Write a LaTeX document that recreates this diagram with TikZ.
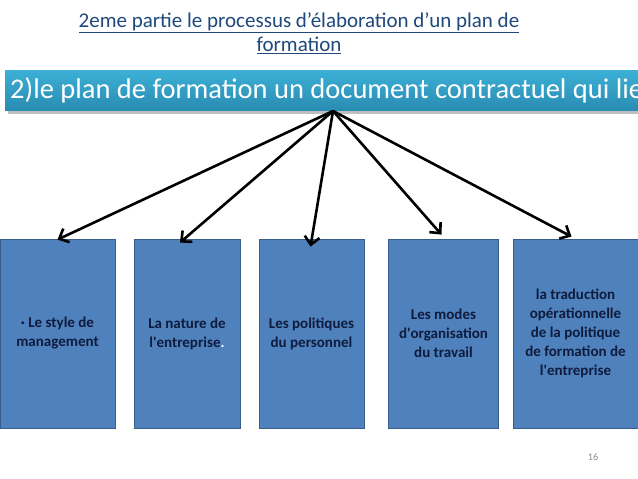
\documentclass[tikz,border=0pt]{standalone}
\usepackage{fontspec}
\setmainfont{Carlito}
\usetikzlibrary{arrows.meta,shadows}
\definecolor{titreblue}{HTML}{1F497D}
\definecolor{bandtop}{HTML}{3CB0D6}
\definecolor{bandbot}{HTML}{2A8CB2}
\definecolor{boxfill}{HTML}{4F81BD}
\definecolor{boxline}{HTML}{385D8A}
\definecolor{boxtext}{HTML}{0F1B3D}
\tikzset{
  facteur/.style={draw=boxline, line width=0.8pt, fill=boxfill, minimum height=189pt,
    align=center, text=boxtext, font=\bfseries\fontsize{15}{19}\selectfont, inner sep=0pt},
  fleche/.style={line width=2.6pt, -{Straight Barb[length=8pt,width=15pt,line width=2.6pt]}}
}
\begin{document}
\begin{tikzpicture}[x=1pt,y=-1pt]
  \useasboundingbox (0,0) rectangle (638,479);
  \fill[white] (0,0) rectangle (638,479);
  \begin{scope}
    \clip (0,0) rectangle (638,479);
    %titre
    \node[text=titreblue, align=center, font=\fontsize{21}{24}\selectfont] (titre) at (299,33)
      {\underline{2eme partie le processus d’élaboration d’un plan de}\\ \underline{formation}};
    %bandeau
    \fill[black!25] (8,74) rectangle (650,114);
    \shade[top color=bandtop, bottom color=bandbot] (5,70) rectangle (648,110);
    \node[anchor=west, text=white, font=\fontsize{28.5}{32}\selectfont, inner sep=0pt] (bandeau) at (10,90)
      {2)le plan de formation un document contractuel qui lie};
    \coordinate (source) at (333,111);
    %cases
    \node[facteur, minimum width=115pt] (c1) at (57.5,333.5) {· Le style de\\management};
    \node[facteur, minimum width=106pt] (c2) at (187,333.5) {La nature de\\l\textquotesingle entreprise\textcolor{white}{.}};
    \node[facteur, minimum width=105pt] (c3) at (311.5,333.5) {Les politiques\\du personnel};
    \node[facteur, minimum width=110pt] (c4) at (443.5,333.5) {Les modes\\d\textquotesingle organisation\\du travail};
    \node[facteur, minimum width=125pt] (c5) at (575.5,333.5) {la traduction\\opérationnelle\\de la politique\\de formation de\\l\textquotesingle entreprise};
    %fleches
    \draw[fleche] (source) -- ([yshift=-1pt]c1.north);
    \draw[fleche] (source) -- ([xshift=-7pt,yshift=-4pt]c2.north);
    \draw[fleche] (source) -- ([xshift=-1pt,yshift=-8pt]c3.north);
    \draw[fleche] (source) -- ([xshift=-2pt,yshift=4pt]c4.north);
    \draw[fleche] (source) -- ([xshift=-4pt,yshift=2pt]c5.north);
    %numero
    \node[text=black!45, font=\fontsize{10}{12}\selectfont] (numero) at (593,457) {16};
  \end{scope}
\end{tikzpicture}
\end{document}
